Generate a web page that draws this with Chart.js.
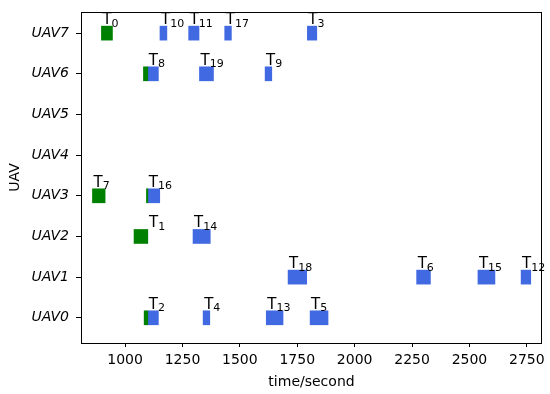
<!DOCTYPE html>
<html>
<head>
<meta charset="utf-8">
<script src="https://cdn.jsdelivr.net/npm/chart.js@4"></script>
<style>
  html, body { margin: 0; padding: 0; background: #fff; }
  #wrap { width: 550px; height: 394px; position: relative; }
</style>
</head>
<body>
<div id="wrap"><canvas id="c"></canvas></div>
<script>
// ---- data ----
const uavLabels = ['UAV0','UAV1','UAV2','UAV3','UAV4','UAV5','UAV6','UAV7'];
const xTicks = [1000, 1250, 1500, 1750, 2000, 2250, 2500, 2750];
const taskIds    = [0,   10,   11,   17,   3,    8,    19,   9,    7,   16,   1,    14,   18,   6,    15,   12,   2,    4,    13,   5];
const taskUav    = [7,   7,    7,    7,    7,    6,    6,    6,    3,   3,    2,    2,    1,    1,    1,    1,    0,    0,    0,    0];
const greenStart = [897, null, null, null, null, 1080, null, null, 858, 1093, 1039, null, null, null, null, null, 1083, null, null, null];
const greenEnd   = [945, null, null, null, null, 1099, null, null, 913, 1099, 1099, null, null, null, null, null, 1099, null, null, null];
const blueStart  = [null,1152, 1277, 1434, 1794, 1099, 1324, 1610, null,1099, 1100, 1296, 1710, 2270, 2537, 2725, 1099, 1340, 1615, 1806];
const blueEnd    = [null,1182, 1322, 1463, 1835, 1145, 1385, 1639, null,1151, 1100, 1371, 1791, 2330, 2611, 2767, 1145, 1369, 1688, 1884];

const FONT = '"DejaVu Sans", sans-serif';

function segs(starts, ends) {
  const out = [];
  for (let i = 0; i < taskIds.length; i++) {
    if (starts[i] != null && ends[i] != null && ends[i] > starts[i]) {
      out.push({ x: [starts[i], ends[i]], y: taskUav[i] });
    }
  }
  return out;
}

const frame = {
  id: 'frame',
  afterDraw(chart) {
    const a = chart.chartArea, ctx = chart.ctx;
    ctx.save();
    ctx.strokeStyle = '#000';
    ctx.lineWidth = 1;
    ctx.strokeRect(Math.round(a.left) + 0.5, Math.round(a.top) + 0.5,
                   Math.round(a.right - a.left) - 1, Math.round(a.bottom - a.top));
    ctx.restore();
  }
};

const taskLabels = {
  id: 'taskLabels',
  afterDatasetsDraw(chart) {
    const ctx = chart.ctx, xs = chart.scales.x, ys = chart.scales.y;
    ctx.save();
    ctx.fillStyle = '#000';
    ctx.textBaseline = 'alphabetic';
    ctx.textAlign = 'left';
    for (let i = 0; i < taskIds.length; i++) {
      const anchor = blueStart[i] != null ? blueStart[i] : greenStart[i];
      const px = xs.getPixelForValue(anchor) + 1;
      const top = ys.getPixelForValue(taskUav[i]) - 7;
      ctx.font = '15px ' + FONT;
      ctx.fillText('T', px, top - 2);
      const w = ctx.measureText('T').width;
      ctx.font = '11px ' + FONT;
      ctx.fillText(String(taskIds[i]), px + w, top + 0.5);
    }
    ctx.restore();
  }
};

Chart.defaults.color = '#000';
Chart.defaults.font.family = FONT;

new Chart(document.getElementById('c'), {
  type: 'bar',
  data: {
    datasets: [
      { label: 'green', data: segs(greenStart, greenEnd), backgroundColor: '#008000',
        borderWidth: 0, barThickness: 14, grouped: false },
      { label: 'blue', data: segs(blueStart, blueEnd), backgroundColor: '#4169E1',
        borderWidth: 0, barThickness: 14, grouped: false }
    ]
  },
  plugins: [frame, taskLabels],
  options: {
    indexAxis: 'y',
    responsive: true,
    maintainAspectRatio: false,
    animation: false,
    layout: { padding: { top: 12, right: 8, left: 0, bottom: 0 } },
    plugins: { legend: { display: false }, tooltip: { enabled: false } },
    scales: {
      x: {
        type: 'linear',
        min: 808, max: 2816,
        offset: false,
        afterBuildTicks(s) { s.ticks = xTicks.map(v => ({ value: v })); },
        afterFit(s) { s.height = 51; s.paddingLeft = 0; s.paddingRight = 0; },
        grid: { offset: false, drawOnChartArea: false, drawTicks: true, tickLength: 4, color: '#000', lineWidth: 1 },
        border: { display: false },
        ticks: { font: { size: 14 }, padding: 5, maxRotation: 0, autoSkip: false,
                 callback: v => String(v) },
        title: { display: true, text: 'time/second', font: { size: 14 }, padding: { top: 0, bottom: 3 } }
      },
      y: {
        type: 'linear',
        min: -0.62, max: 7.52,
        offset: false,
        afterBuildTicks(s) { s.ticks = uavLabels.map((_, i) => ({ value: i })); },
        afterFit(s) { s.width = 81; s.paddingTop = 0; s.paddingBottom = 0; },
        grid: { offset: false, drawOnChartArea: false, drawTicks: true, tickLength: 5, color: '#000', lineWidth: 1 },
        border: { display: false },
        ticks: { font: { size: 14, style: 'italic' }, padding: 7, autoSkip: false,
                 callback: v => uavLabels[v] },
        title: { display: true, text: 'UAV', font: { size: 14 }, padding: { top: 7, bottom: 0 } }
      }
    }
  }
});
</script>
</body>
</html>
